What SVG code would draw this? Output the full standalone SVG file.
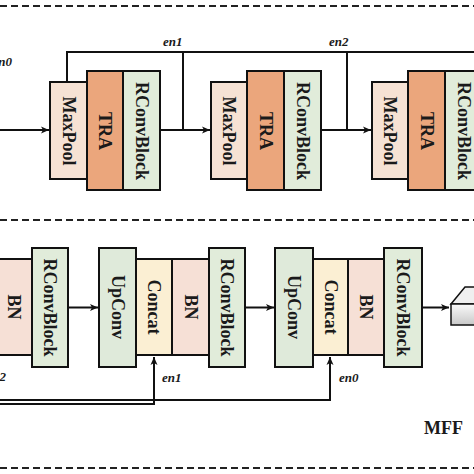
<svg xmlns="http://www.w3.org/2000/svg" width="474" height="474" viewBox="0 0 474 474">
<defs>
<style>
.b{stroke:#111;stroke-width:2}
.mp{fill:#f6e2d4}.tra{fill:#eba67c}.rc{fill:#e1ecda}.bn{fill:#f6e0d6}.cc{fill:#fbefd3}.up{fill:#dfeada}
.t{font-family:"Liberation Serif",serif;font-weight:bold;font-size:18px;fill:#1a1a1a;text-anchor:middle;dominant-baseline:central}
.lb{font-family:"Liberation Serif",serif;font-weight:bold;font-style:italic;font-size:13px;fill:#1a1a1a}
.ln{fill:none;stroke:#111;stroke-width:2}
.ds{fill:none;stroke:#222;stroke-width:2;stroke-dasharray:7 4}
</style>
<marker id="ar" markerWidth="10" markerHeight="10" refX="9" refY="5" orient="auto" markerUnits="userSpaceOnUse">
<path d="M1,1.5 L9,5 L1,8.5 L3,5 Z" fill="#111"/>
</marker>
<linearGradient id="gb" x1="0" y1="0" x2="0" y2="1">
<stop offset="0" stop-color="#fafafa"/><stop offset="1" stop-color="#c8c8c8"/>
</linearGradient>
</defs>
<rect width="474" height="474" fill="#fff"/>
<path class="ds" d="M0,6H474M0,220H474M0,468H474"/>
<g id="connectors">
<path class="ln" d="M0,130H49" marker-end="url(#ar)"/>
<path class="ln" d="M160,130H210" marker-end="url(#ar)"/>
<path class="ln" d="M321,130H371" marker-end="url(#ar)"/>
<path class="ln" d="M67,130V52H474M183,52V130M347,52V130"/>
<path class="ln" d="M68,307.5H98" marker-end="url(#ar)"/>
<path class="ln" d="M245,307.5H274" marker-end="url(#ar)"/>
<path class="ln" d="M422,307.5H449" marker-end="url(#ar)"/>
<path class="ln" d="M0,404H154V357" marker-end="url(#ar)"/>
<path class="ln" d="M0,400H330V357" marker-end="url(#ar)"/>
</g>
<text class="lb" x="12" y="66" text-anchor="end">en0</text>
<text class="lb" x="163" y="46">en1</text>
<text class="lb" x="329" y="46">en2</text>
<text class="lb" x="6" y="381" text-anchor="end">en2</text>
<text class="lb" x="162" y="382">en1</text>
<text class="lb" x="339" y="382">en0</text>
<g id="enc1">
<rect class="b mp" x="50" y="82" width="37" height="97"/>
<rect class="b tra" x="87" y="71" width="36" height="119"/>
<rect class="b rc" x="123" y="71" width="37" height="119"/>
<text class="t" transform="translate(68.5,131) rotate(90)">MaxPool</text>
<text class="t" transform="translate(105,131) rotate(90)">TRA</text>
<text class="t" transform="translate(141.5,131) rotate(90)">RConvBlock</text>
</g>
<g id="enc2">
<rect class="b mp" x="211" y="82" width="36" height="97"/>
<rect class="b tra" x="247" y="71" width="37" height="119"/>
<rect class="b rc" x="284" y="71" width="37" height="119"/>
<text class="t" transform="translate(229,131) rotate(90)">MaxPool</text>
<text class="t" transform="translate(265.5,131) rotate(90)">TRA</text>
<text class="t" transform="translate(302.5,131) rotate(90)">RConvBlock</text>
</g>
<g id="enc3">
<rect class="b mp" x="372" y="82" width="36" height="97"/>
<rect class="b tra" x="408" y="71" width="37" height="119"/>
<rect class="b rc" x="445" y="71" width="37" height="119"/>
<text class="t" transform="translate(390,131) rotate(90)">MaxPool</text>
<text class="t" transform="translate(426.5,131) rotate(90)">TRA</text>
<text class="t" transform="translate(463.5,131) rotate(90)">RConvBlock</text>
</g>
<g id="dec0">
<rect class="b bn" x="-5" y="259" width="37" height="96"/>
<rect class="b rc" x="32" y="248" width="36" height="119"/>
<text class="t" transform="translate(13.5,307) rotate(90)">BN</text>
<text class="t" transform="translate(50,307.5) rotate(90)">RConvBlock</text>
</g>
<g id="dec1">
<rect class="b up" x="99" y="248" width="37" height="119"/>
<rect class="b cc" x="136" y="259" width="36" height="96"/>
<rect class="b bn" x="172" y="259" width="37" height="96"/>
<rect class="b rc" x="209" y="248" width="36" height="119"/>
<text class="t" transform="translate(117.5,307) rotate(90)">UpConv</text>
<text class="t" transform="translate(154,307) rotate(90)">Concat</text>
<text class="t" transform="translate(190.5,307) rotate(90)">BN</text>
<text class="t" transform="translate(227,307.5) rotate(90)">RConvBlock</text>
</g>
<g id="dec2">
<rect class="b up" x="275" y="248" width="38" height="119"/>
<rect class="b cc" x="313" y="259" width="35" height="96"/>
<rect class="b bn" x="348" y="259" width="36" height="96"/>
<rect class="b rc" x="384" y="248" width="38" height="119"/>
<text class="t" transform="translate(294,307) rotate(90)">UpConv</text>
<text class="t" transform="translate(330.5,307) rotate(90)">Concat</text>
<text class="t" transform="translate(366,307) rotate(90)">BN</text>
<text class="t" transform="translate(403,307.5) rotate(90)">RConvBlock</text>
</g>
<g id="output">
<polygon points="451,304 465,287 490,287 480,304" fill="#efefef" stroke="#111" stroke-width="1.5"/>
<rect x="451" y="304" width="30" height="21" fill="url(#gb)" stroke="#111" stroke-width="1.5"/>
</g>
<text x="424" y="434" style="font-family:'Liberation Serif',serif;font-weight:bold;font-size:18px;fill:#1a1a1a">MFF</text>
</svg>
